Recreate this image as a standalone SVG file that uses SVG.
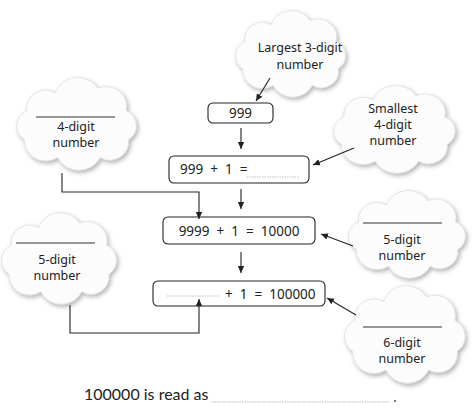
<svg xmlns="http://www.w3.org/2000/svg" xmlns:xlink="http://www.w3.org/1999/xlink" width="475" height="409" viewBox="0 0 475 409">
<style>
.cloud{fill:#fcfcfc;stroke:#e2e2e2;stroke-width:0.8;vector-effect:non-scaling-stroke}
.ct{font-family:"Noto Sans","Open Sans",sans-serif;font-size:12.5px;fill:#222;text-anchor:middle}
.bt{font-family:"Noto Sans","Open Sans",sans-serif;font-size:13.5px;fill:#222}
.box{fill:#fff;stroke:#222;stroke-width:1.1}
.ln{stroke:#333;stroke-width:1}
.dot{stroke:#aaa;stroke-width:0.8;stroke-dasharray:1.5 1}
.con{fill:none;stroke:#222;stroke-width:1.1;marker-end:url(#ah)}
.bottom{font-family:"Lato","Open Sans",sans-serif;font-size:16px;fill:#222}
</style>
<defs>
<filter id="sh" x="-20%" y="-20%" width="140%" height="140%">
<feDropShadow dx="1.5" dy="2" stdDeviation="2" flood-color="#777" flood-opacity="0.55"/>
</filter>
<marker id="ah" markerWidth="8" markerHeight="8" refX="7" refY="4" orient="auto" markerUnits="userSpaceOnUse">
<path d="M0,0.8 L7,4 L0,7.2 Z" fill="#222"/>
</marker>
<path id="cl" d="M16,60 A15,15 0 0 1 18,34 A16,16 0 0 1 42,18 A20,20 0 0 1 78,14 A17.5,17.5 0 0 1 102,34 A15,15 0 0 1 104,60 A16,16 0 0 1 80,76 A20,20 0 0 1 44,76 A18,18 0 0 1 16,60 Z"/>
</defs>
<rect width="475" height="409" fill="#fff"/>

<g id="cloud-largest">
<use xlink:href="#cl" class="cloud" filter="url(#sh)" transform="translate(225.3,5.8) scale(1.087,1.048)"/>
<text class="ct" x="300" y="52">Largest 3-digit</text>
<text class="ct" x="300" y="69">number</text>
</g>
<g id="cloud-4digit">
<use xlink:href="#cl" class="cloud" filter="url(#sh)" transform="translate(5.5,72.5) scale(1.183,1.12)"/>
<line class="ln" x1="36" y1="117" x2="115" y2="117"/>
<text class="ct" x="76" y="131">4-digit</text>
<text class="ct" x="76" y="147">number</text>
</g>
<g id="cloud-smallest">
<use xlink:href="#cl" class="cloud" filter="url(#sh)" transform="translate(322.4,80.8) scale(1.2,1.06)"/>
<text class="ct" x="393" y="113">Smallest</text>
<text class="ct" x="393" y="129">4-digit</text>
<text class="ct" x="393" y="145">number</text>
</g>
<g id="cloud-5digit-right">
<use xlink:href="#cl" class="cloud" filter="url(#sh)" transform="translate(337.8,185.8) scale(1.154,1.06)"/>
<line class="ln" x1="363" y1="223" x2="442" y2="223"/>
<text class="ct" x="402" y="244">5-digit</text>
<text class="ct" x="402" y="260">number</text>
</g>
<g id="cloud-5digit-left">
<use xlink:href="#cl" class="cloud" filter="url(#sh)" transform="translate(-9.1,207.6) scale(1.135,1.108)"/>
<line class="ln" x1="16" y1="243" x2="95" y2="243"/>
<text class="ct" x="57" y="264">5-digit</text>
<text class="ct" x="57" y="280">number</text>
</g>
<g id="cloud-6digit">
<use xlink:href="#cl" class="cloud" filter="url(#sh)" transform="translate(333.5,280.3) scale(1.19,1.18)"/>
<line class="ln" x1="363" y1="327" x2="442" y2="327"/>
<text class="ct" x="402" y="347">6-digit</text>
<text class="ct" x="402" y="363">number</text>
</g>

<g id="box-999">
<rect class="box" x="208" y="103" width="65" height="20" rx="5"/>
<text class="bt" x="240.5" y="118" text-anchor="middle">999</text>
</g>
<g id="box-999-plus-1">
<rect class="box" x="169" y="156" width="140" height="27" rx="5"/>
<text class="bt" x="180" y="174" xml:space="preserve">999  +  1  =</text>
<line class="dot" x1="247" y1="177" x2="299" y2="177"/>
</g>
<g id="box-9999-plus-1">
<rect class="box" x="163" y="217" width="152" height="27" rx="5"/>
<text class="bt" x="239" y="235.5" text-anchor="middle" xml:space="preserve">9999  +  1  =  10000</text>
</g>
<g id="box-blank-plus-1">
<rect class="box" x="153" y="281" width="172" height="25" rx="5"/>
<line class="dot" x1="167" y1="296" x2="220" y2="296"/>
<text class="bt" x="225" y="298.5" xml:space="preserve">+  1  =  100000</text>
</g>

<g id="connectors">
<line class="con" x1="270" y1="78" x2="256" y2="101"/>
<line class="con" x1="241" y1="128" x2="241" y2="149"/>
<line class="con" x1="354" y1="148" x2="313" y2="165"/>
<line class="con" x1="241" y1="189" x2="241" y2="209"/>
<polyline class="con" points="62,173 62,192 199,192 199,219"/>
<line class="con" x1="353" y1="246" x2="321" y2="234"/>
<line class="con" x1="241" y1="252" x2="241" y2="273"/>
<line class="con" x1="356" y1="315" x2="327" y2="298"/>
<polyline class="con" points="70,305 70,333 199,333 199,299"/>
</g>

<g id="footer">
<text class="bottom" x="84" y="400">100000 is read as</text>
<line class="dot" x1="212" y1="402" x2="390" y2="402"/>
<circle cx="395" cy="401" r="0.9" fill="#333"/>
</g>
</svg>
